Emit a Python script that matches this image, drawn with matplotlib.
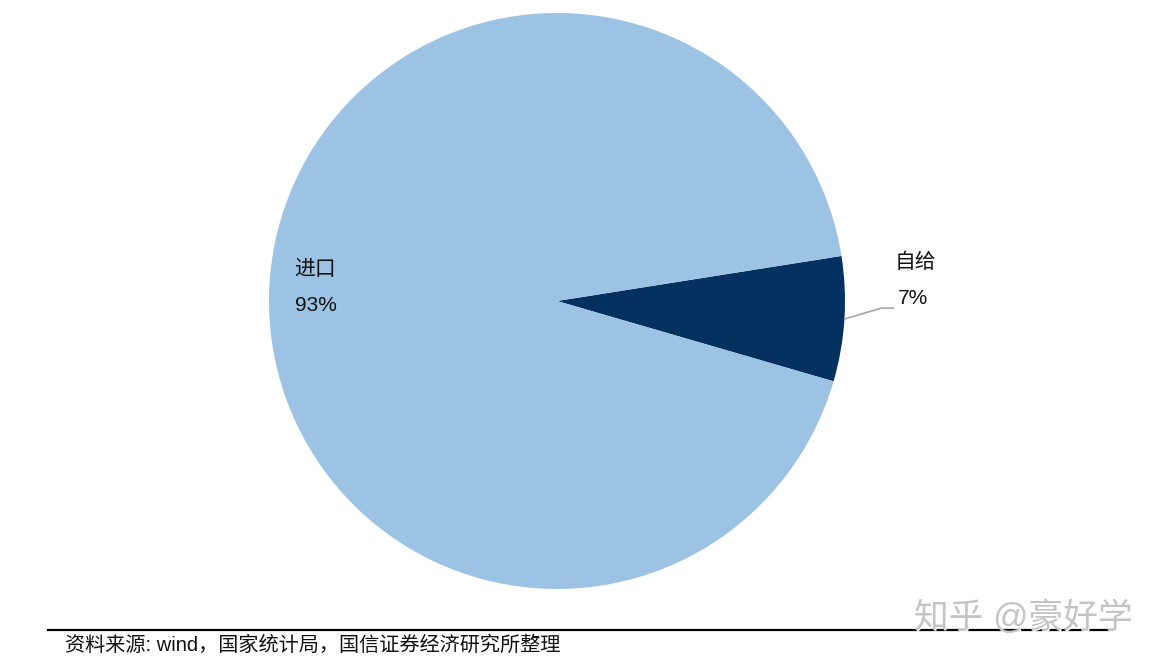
import matplotlib
matplotlib.use("Agg")
import matplotlib.pyplot as plt
import numpy as np

labels = ["自给", "进口"]
values = [7, 93]
colors = ["#04315F", "#9DC3E4"]
source_text = "资料来源: wind，国家统计局，国信证券经济研究所整理"
watermark = "知乎 @豪好学"

plt.rcParams['font.family'] = ['Liberation Sans', 'Noto Sans CJK SC', 'DejaVu Sans']

W, H = 1162, 666
fig = plt.figure(figsize=(W / 100, H / 100), dpi=100)
ax = fig.add_axes([0, 0, 1, 1])

cx, cy, R = 557, 365, 288
mid_angle = -3.6
start = mid_angle - values[0] / sum(values) * 360 / 2
wedges, _ = ax.pie(values, colors=colors, startangle=start, counterclock=True,
                   center=(cx, cy), radius=R, frame=True,
                   wedgeprops=dict(linewidth=0))
ax.set_xlim(0, W)
ax.set_ylim(0, H)
ax.set_aspect('equal')
ax.axis('off')

# label for 进口 (inside)
ang = np.deg2rad(176.7)
lx, ly = cx + 0.84 * R * np.cos(ang), cy + 0.84 * R * np.sin(ang)
ax.text(lx, ly + 18, labels[1], ha='center', va='center', fontsize=15, color='#111111')
ax.text(lx, ly - 18, f"{values[1]}%", ha='center', va='center', fontsize=15, color='#111111')

# label for 自给 (outside with leader)
ang2 = np.deg2rad(mid_angle)
px, py = cx + R * np.cos(ang2), cy + R * np.sin(ang2)
kx, ky = px + 37, py + 11
ex, ey = kx + 13, ky
ax.plot([px, kx, ex], [py, ky, ey], color='#A6A6A6', lw=1.2, solid_capstyle='butt')
ax.text(916, H - 262, labels[0], ha='center', va='center', fontsize=15, color='#111111')
ax.text(913, H - 298, f"{values[0]}%", ha='center', va='center', fontsize=15, color='#111111')

# footer line and source
ax.plot([48, 1112], [H - 630, H - 630], color='black', lw=1.6)
ax.text(65, H - 645, source_text, ha='left', va='center', fontsize=14.5, color='#111111')

# watermark
ax.text(1023 + 1, H - 618 - 1, watermark, ha='center', va='center', fontsize=25, color='white', zorder=5)
ax.text(1023, H - 618, watermark, ha='center', va='center', fontsize=25, color='#C4C4C4', zorder=6)

fig.savefig("out.png", dpi=100)
